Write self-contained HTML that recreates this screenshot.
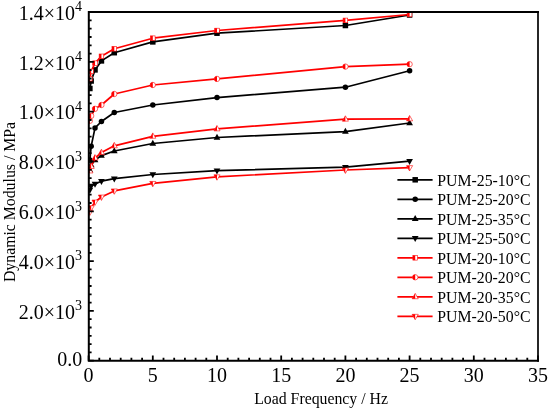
<!DOCTYPE html>
<html><head><meta charset="utf-8"><style>
html,body{margin:0;padding:0;background:#fff;}
svg{display:block;}
.tl{font-family:"Liberation Serif",serif;font-size:20px;fill:#000;}
.tt{font-family:"Liberation Serif",serif;font-size:15.8px;fill:#000;}
</style></head><body>
<svg width="550" height="408" viewBox="0 0 550 408">
<rect width="550" height="408" fill="#fff"/>
<text x="88.60" y="382.2" text-anchor="middle" class="tl">0</text>
<text x="152.80" y="382.2" text-anchor="middle" class="tl">5</text>
<text x="217.00" y="382.2" text-anchor="middle" class="tl">10</text>
<text x="281.20" y="382.2" text-anchor="middle" class="tl">15</text>
<text x="345.40" y="382.2" text-anchor="middle" class="tl">20</text>
<text x="409.60" y="382.2" text-anchor="middle" class="tl">25</text>
<text x="473.80" y="382.2" text-anchor="middle" class="tl">30</text>
<text x="538.00" y="382.2" text-anchor="middle" class="tl">35</text>
<text x="82.3" y="366.30" text-anchor="end" class="tl">0.0</text>
<text x="82" y="318.50" text-anchor="end" class="tl">2.0×10<tspan dy="-8.4" font-size="14">3</tspan></text>
<text x="82" y="268.70" text-anchor="end" class="tl">4.0×10<tspan dy="-8.4" font-size="14">3</tspan></text>
<text x="82" y="218.90" text-anchor="end" class="tl">6.0×10<tspan dy="-8.4" font-size="14">3</tspan></text>
<text x="82" y="169.10" text-anchor="end" class="tl">8.0×10<tspan dy="-8.4" font-size="14">3</tspan></text>
<text x="82" y="119.30" text-anchor="end" class="tl">1.0×10<tspan dy="-8.4" font-size="14">4</tspan></text>
<text x="82" y="69.50" text-anchor="end" class="tl">1.2×10<tspan dy="-8.4" font-size="14">4</tspan></text>
<text x="82" y="19.70" text-anchor="end" class="tl">1.4×10<tspan dy="-8.4" font-size="14">4</tspan></text>
<text x="321.1" y="403.6" text-anchor="middle" class="tt">Load Frequency / Hz</text>
<text transform="translate(14.6,202) rotate(-90)" x="0" y="0" text-anchor="middle" class="tt">Dynamic Modulus / MPa</text>
<defs><clipPath id="pa"><rect x="88" y="0" width="462" height="361"/></clipPath></defs><g clip-path="url(#pa)">
<polyline points="89.88,88.50 91.17,81.00 95.02,69.90 101.44,60.90 114.28,52.70 152.80,41.90 217.00,33.20 345.40,25.50 409.60,15.00" fill="none" stroke="#000" stroke-width="1.7" stroke-linejoin="round"/>
<rect x="87.13" y="85.75" width="5.50" height="5.50" fill="#000"/>
<rect x="88.42" y="78.25" width="5.50" height="5.50" fill="#000"/>
<rect x="92.27" y="67.15" width="5.50" height="5.50" fill="#000"/>
<rect x="98.69" y="58.15" width="5.50" height="5.50" fill="#000"/>
<rect x="111.53" y="49.95" width="5.50" height="5.50" fill="#000"/>
<rect x="150.05" y="39.15" width="5.50" height="5.50" fill="#000"/>
<rect x="214.25" y="30.45" width="5.50" height="5.50" fill="#000"/>
<rect x="342.65" y="22.75" width="5.50" height="5.50" fill="#000"/>
<rect x="406.85" y="12.25" width="5.50" height="5.50" fill="#000"/>
<polyline points="89.88,160.00 91.17,146.30 95.02,127.90 101.44,121.50 114.28,112.50 152.80,105.00 217.00,97.60 345.40,87.20 409.60,70.70" fill="none" stroke="#000" stroke-width="1.7" stroke-linejoin="round"/>
<circle cx="89.88" cy="160.00" r="2.75" fill="#000"/>
<circle cx="91.17" cy="146.30" r="2.75" fill="#000"/>
<circle cx="95.02" cy="127.90" r="2.75" fill="#000"/>
<circle cx="101.44" cy="121.50" r="2.75" fill="#000"/>
<circle cx="114.28" cy="112.50" r="2.75" fill="#000"/>
<circle cx="152.80" cy="105.00" r="2.75" fill="#000"/>
<circle cx="217.00" cy="97.60" r="2.75" fill="#000"/>
<circle cx="345.40" cy="87.20" r="2.75" fill="#000"/>
<circle cx="409.60" cy="70.70" r="2.75" fill="#000"/>
<polyline points="89.88,170.00 91.17,165.00 95.02,160.00 101.44,155.60 114.28,151.00 152.80,143.50 217.00,137.50 345.40,131.60 409.60,123.00" fill="none" stroke="#000" stroke-width="1.7" stroke-linejoin="round"/>
<polygon points="89.88,166.20 93.23,172.20 86.53,172.20" fill="#000"/>
<polygon points="91.17,161.20 94.52,167.20 87.82,167.20" fill="#000"/>
<polygon points="95.02,156.20 98.37,162.20 91.67,162.20" fill="#000"/>
<polygon points="101.44,151.80 104.79,157.80 98.09,157.80" fill="#000"/>
<polygon points="114.28,147.20 117.63,153.20 110.93,153.20" fill="#000"/>
<polygon points="152.80,139.70 156.15,145.70 149.45,145.70" fill="#000"/>
<polygon points="217.00,133.70 220.35,139.70 213.65,139.70" fill="#000"/>
<polygon points="345.40,127.80 348.75,133.80 342.05,133.80" fill="#000"/>
<polygon points="409.60,119.20 412.95,125.20 406.25,125.20" fill="#000"/>
<polyline points="89.88,190.00 91.17,186.00 95.02,184.00 101.44,181.20 114.28,178.60 152.80,174.50 217.00,170.60 345.40,167.20 409.60,161.10" fill="none" stroke="#000" stroke-width="1.7" stroke-linejoin="round"/>
<polygon points="89.88,193.80 93.23,187.80 86.53,187.80" fill="#000"/>
<polygon points="91.17,189.80 94.52,183.80 87.82,183.80" fill="#000"/>
<polygon points="95.02,187.80 98.37,181.80 91.67,181.80" fill="#000"/>
<polygon points="101.44,185.00 104.79,179.00 98.09,179.00" fill="#000"/>
<polygon points="114.28,182.40 117.63,176.40 110.93,176.40" fill="#000"/>
<polygon points="152.80,178.30 156.15,172.30 149.45,172.30" fill="#000"/>
<polygon points="217.00,174.40 220.35,168.40 213.65,168.40" fill="#000"/>
<polygon points="345.40,171.00 348.75,165.00 342.05,165.00" fill="#000"/>
<polygon points="409.60,164.90 412.95,158.90 406.25,158.90" fill="#000"/>
<polyline points="89.88,78.70 91.17,71.40 95.02,63.20 101.44,56.30 114.28,48.80 152.80,38.20 217.00,30.50 345.40,20.40 409.60,14.50" fill="none" stroke="#ff0000" stroke-width="1.7" stroke-linejoin="round"/>
<rect x="87.58" y="76.40" width="4.60" height="4.60" fill="#fff" stroke="#ff0000" stroke-width="0.6"/><rect x="87.58" y="76.40" width="2.30" height="4.60" fill="#ff0000"/>
<rect x="88.87" y="69.10" width="4.60" height="4.60" fill="#fff" stroke="#ff0000" stroke-width="0.6"/><rect x="88.87" y="69.10" width="2.30" height="4.60" fill="#ff0000"/>
<rect x="92.72" y="60.90" width="4.60" height="4.60" fill="#fff" stroke="#ff0000" stroke-width="0.6"/><rect x="92.72" y="60.90" width="2.30" height="4.60" fill="#ff0000"/>
<rect x="99.14" y="54.00" width="4.60" height="4.60" fill="#fff" stroke="#ff0000" stroke-width="0.6"/><rect x="99.14" y="54.00" width="2.30" height="4.60" fill="#ff0000"/>
<rect x="111.98" y="46.50" width="4.60" height="4.60" fill="#fff" stroke="#ff0000" stroke-width="0.6"/><rect x="111.98" y="46.50" width="2.30" height="4.60" fill="#ff0000"/>
<rect x="150.50" y="35.90" width="4.60" height="4.60" fill="#fff" stroke="#ff0000" stroke-width="0.6"/><rect x="150.50" y="35.90" width="2.30" height="4.60" fill="#ff0000"/>
<rect x="214.70" y="28.20" width="4.60" height="4.60" fill="#fff" stroke="#ff0000" stroke-width="0.6"/><rect x="214.70" y="28.20" width="2.30" height="4.60" fill="#ff0000"/>
<rect x="343.10" y="18.10" width="4.60" height="4.60" fill="#fff" stroke="#ff0000" stroke-width="0.6"/><rect x="343.10" y="18.10" width="2.30" height="4.60" fill="#ff0000"/>
<rect x="407.30" y="12.20" width="4.60" height="4.60" fill="#fff" stroke="#ff0000" stroke-width="0.6"/><rect x="407.30" y="12.20" width="2.30" height="4.60" fill="#ff0000"/>
<polyline points="89.88,120.80 91.17,115.90 95.02,108.80 101.44,105.00 114.28,94.00 152.80,85.00 217.00,78.90 345.40,66.60 409.60,64.20" fill="none" stroke="#ff0000" stroke-width="1.7" stroke-linejoin="round"/>
<circle cx="89.88" cy="120.80" r="2.70" fill="#fff" stroke="#ff0000" stroke-width="0.6"/><path d="M89.88,118.10 A2.70,2.70 0 0 0 89.88,123.50 Z" fill="#ff0000"/>
<circle cx="91.17" cy="115.90" r="2.70" fill="#fff" stroke="#ff0000" stroke-width="0.6"/><path d="M91.17,113.20 A2.70,2.70 0 0 0 91.17,118.60 Z" fill="#ff0000"/>
<circle cx="95.02" cy="108.80" r="2.70" fill="#fff" stroke="#ff0000" stroke-width="0.6"/><path d="M95.02,106.10 A2.70,2.70 0 0 0 95.02,111.50 Z" fill="#ff0000"/>
<circle cx="101.44" cy="105.00" r="2.70" fill="#fff" stroke="#ff0000" stroke-width="0.6"/><path d="M101.44,102.30 A2.70,2.70 0 0 0 101.44,107.70 Z" fill="#ff0000"/>
<circle cx="114.28" cy="94.00" r="2.70" fill="#fff" stroke="#ff0000" stroke-width="0.6"/><path d="M114.28,91.30 A2.70,2.70 0 0 0 114.28,96.70 Z" fill="#ff0000"/>
<circle cx="152.80" cy="85.00" r="2.70" fill="#fff" stroke="#ff0000" stroke-width="0.6"/><path d="M152.80,82.30 A2.70,2.70 0 0 0 152.80,87.70 Z" fill="#ff0000"/>
<circle cx="217.00" cy="78.90" r="2.70" fill="#fff" stroke="#ff0000" stroke-width="0.6"/><path d="M217.00,76.20 A2.70,2.70 0 0 0 217.00,81.60 Z" fill="#ff0000"/>
<circle cx="345.40" cy="66.60" r="2.70" fill="#fff" stroke="#ff0000" stroke-width="0.6"/><path d="M345.40,63.90 A2.70,2.70 0 0 0 345.40,69.30 Z" fill="#ff0000"/>
<circle cx="409.60" cy="64.20" r="2.70" fill="#fff" stroke="#ff0000" stroke-width="0.6"/><path d="M409.60,61.50 A2.70,2.70 0 0 0 409.60,66.90 Z" fill="#ff0000"/>
<polyline points="89.88,171.00 91.17,166.50 95.02,158.00 101.44,152.60 114.28,145.80 152.80,136.30 217.00,128.90 345.40,119.20 409.60,118.90" fill="none" stroke="#ff0000" stroke-width="1.7" stroke-linejoin="round"/>
<polygon points="89.88,167.59 92.93,172.96 86.83,172.96" fill="#fff" stroke="#ff0000" stroke-width="0.6" stroke-linejoin="miter"/><polygon points="89.88,167.59 89.88,172.96 86.83,172.96" fill="#ff0000"/>
<polygon points="91.17,163.09 94.22,168.46 88.12,168.46" fill="#fff" stroke="#ff0000" stroke-width="0.6" stroke-linejoin="miter"/><polygon points="91.17,163.09 91.17,168.46 88.12,168.46" fill="#ff0000"/>
<polygon points="95.02,154.59 98.07,159.96 91.97,159.96" fill="#fff" stroke="#ff0000" stroke-width="0.6" stroke-linejoin="miter"/><polygon points="95.02,154.59 95.02,159.96 91.97,159.96" fill="#ff0000"/>
<polygon points="101.44,149.19 104.49,154.56 98.39,154.56" fill="#fff" stroke="#ff0000" stroke-width="0.6" stroke-linejoin="miter"/><polygon points="101.44,149.19 101.44,154.56 98.39,154.56" fill="#ff0000"/>
<polygon points="114.28,142.39 117.33,147.76 111.23,147.76" fill="#fff" stroke="#ff0000" stroke-width="0.6" stroke-linejoin="miter"/><polygon points="114.28,142.39 114.28,147.76 111.23,147.76" fill="#ff0000"/>
<polygon points="152.80,132.89 155.85,138.26 149.75,138.26" fill="#fff" stroke="#ff0000" stroke-width="0.6" stroke-linejoin="miter"/><polygon points="152.80,132.89 152.80,138.26 149.75,138.26" fill="#ff0000"/>
<polygon points="217.00,125.49 220.05,130.86 213.95,130.86" fill="#fff" stroke="#ff0000" stroke-width="0.6" stroke-linejoin="miter"/><polygon points="217.00,125.49 217.00,130.86 213.95,130.86" fill="#ff0000"/>
<polygon points="345.40,115.79 348.45,121.16 342.35,121.16" fill="#fff" stroke="#ff0000" stroke-width="0.6" stroke-linejoin="miter"/><polygon points="345.40,115.79 345.40,121.16 342.35,121.16" fill="#ff0000"/>
<polygon points="409.60,115.49 412.65,120.86 406.55,120.86" fill="#fff" stroke="#ff0000" stroke-width="0.6" stroke-linejoin="miter"/><polygon points="409.60,115.49 409.60,120.86 406.55,120.86" fill="#ff0000"/>
<polyline points="89.88,212.00 91.17,207.70 95.02,202.00 101.44,197.00 114.28,190.90 152.80,183.40 217.00,176.80 345.40,170.00 409.60,167.60" fill="none" stroke="#ff0000" stroke-width="1.7" stroke-linejoin="round"/>
<polygon points="89.88,215.41 92.93,210.04 86.83,210.04" fill="#fff" stroke="#ff0000" stroke-width="0.6" stroke-linejoin="miter"/><polygon points="89.88,215.41 89.88,210.04 86.83,210.04" fill="#ff0000"/>
<polygon points="91.17,211.11 94.22,205.74 88.12,205.74" fill="#fff" stroke="#ff0000" stroke-width="0.6" stroke-linejoin="miter"/><polygon points="91.17,211.11 91.17,205.74 88.12,205.74" fill="#ff0000"/>
<polygon points="95.02,205.41 98.07,200.04 91.97,200.04" fill="#fff" stroke="#ff0000" stroke-width="0.6" stroke-linejoin="miter"/><polygon points="95.02,205.41 95.02,200.04 91.97,200.04" fill="#ff0000"/>
<polygon points="101.44,200.41 104.49,195.04 98.39,195.04" fill="#fff" stroke="#ff0000" stroke-width="0.6" stroke-linejoin="miter"/><polygon points="101.44,200.41 101.44,195.04 98.39,195.04" fill="#ff0000"/>
<polygon points="114.28,194.31 117.33,188.94 111.23,188.94" fill="#fff" stroke="#ff0000" stroke-width="0.6" stroke-linejoin="miter"/><polygon points="114.28,194.31 114.28,188.94 111.23,188.94" fill="#ff0000"/>
<polygon points="152.80,186.81 155.85,181.44 149.75,181.44" fill="#fff" stroke="#ff0000" stroke-width="0.6" stroke-linejoin="miter"/><polygon points="152.80,186.81 152.80,181.44 149.75,181.44" fill="#ff0000"/>
<polygon points="217.00,180.21 220.05,174.84 213.95,174.84" fill="#fff" stroke="#ff0000" stroke-width="0.6" stroke-linejoin="miter"/><polygon points="217.00,180.21 217.00,174.84 213.95,174.84" fill="#ff0000"/>
<polygon points="345.40,173.41 348.45,168.04 342.35,168.04" fill="#fff" stroke="#ff0000" stroke-width="0.6" stroke-linejoin="miter"/><polygon points="345.40,173.41 345.40,168.04 342.35,168.04" fill="#ff0000"/>
<polygon points="409.60,171.01 412.65,165.64 406.55,165.64" fill="#fff" stroke="#ff0000" stroke-width="0.6" stroke-linejoin="miter"/><polygon points="409.60,171.01 409.60,165.64 406.55,165.64" fill="#ff0000"/>
</g>
<path d="M87.8,12.10H539M88.8,11.10V361.70M87.8,360.70H539" stroke="#000" stroke-width="2" fill="none"/><path d="M538.0,11.10V361.70" stroke="#000" stroke-width="1.7" fill="none"/>
<path d="M88.60,360.70V355.50M99.30,360.70V357.70M110.00,360.70V357.70M120.70,360.70V357.70M131.40,360.70V357.70M142.10,360.70V357.70M152.80,360.70V355.50M163.50,360.70V357.70M174.20,360.70V357.70M184.90,360.70V357.70M195.60,360.70V357.70M206.30,360.70V357.70M217.00,360.70V355.50M227.70,360.70V357.70M238.40,360.70V357.70M249.10,360.70V357.70M259.80,360.70V357.70M270.50,360.70V357.70M281.20,360.70V355.50M291.90,360.70V357.70M302.60,360.70V357.70M313.30,360.70V357.70M324.00,360.70V357.70M334.70,360.70V357.70M345.40,360.70V355.50M356.10,360.70V357.70M366.80,360.70V357.70M377.50,360.70V357.70M388.20,360.70V357.70M398.90,360.70V357.70M409.60,360.70V355.50M420.30,360.70V357.70M431.00,360.70V357.70M441.70,360.70V357.70M452.40,360.70V357.70M463.10,360.70V357.70M473.80,360.70V355.50M484.50,360.70V357.70M495.20,360.70V357.70M505.90,360.70V357.70M516.60,360.70V357.70M527.30,360.70V357.70M538.00,360.70V355.50M88.60,360.70H93.80M88.60,352.40H91.60M88.60,344.10H91.60M88.60,335.80H91.60M88.60,327.50H91.60M88.60,319.20H91.60M88.60,310.90H93.80M88.60,302.60H91.60M88.60,294.30H91.60M88.60,286.00H91.60M88.60,277.70H91.60M88.60,269.40H91.60M88.60,261.10H93.80M88.60,252.80H91.60M88.60,244.50H91.60M88.60,236.20H91.60M88.60,227.90H91.60M88.60,219.60H91.60M88.60,211.30H93.80M88.60,203.00H91.60M88.60,194.70H91.60M88.60,186.40H91.60M88.60,178.10H91.60M88.60,169.80H91.60M88.60,161.50H93.80M88.60,153.20H91.60M88.60,144.90H91.60M88.60,136.60H91.60M88.60,128.30H91.60M88.60,120.00H91.60M88.60,111.70H93.80M88.60,103.40H91.60M88.60,95.10H91.60M88.60,86.80H91.60M88.60,78.50H91.60M88.60,70.20H91.60M88.60,61.90H93.80M88.60,53.60H91.60M88.60,45.30H91.60M88.60,37.00H91.60M88.60,28.70H91.60M88.60,20.40H91.60M88.60,12.10H93.80" stroke="#000" stroke-width="1.8" fill="none"/>
<line x1="397.4" y1="179.80" x2="432.6" y2="179.80" stroke="#000" stroke-width="1.7"/>
<rect x="412.45" y="177.05" width="5.50" height="5.50" fill="#000"/>
<text x="437.3" y="185.70" class="tt" font-size="15.65">PUM-25-10°C</text>
<line x1="397.4" y1="199.30" x2="432.6" y2="199.30" stroke="#000" stroke-width="1.7"/>
<circle cx="415.20" cy="199.30" r="2.75" fill="#000"/>
<text x="437.3" y="205.20" class="tt" font-size="15.65">PUM-25-20°C</text>
<line x1="397.4" y1="218.80" x2="432.6" y2="218.80" stroke="#000" stroke-width="1.7"/>
<polygon points="415.20,215.00 418.55,221.00 411.85,221.00" fill="#000"/>
<text x="437.3" y="224.70" class="tt" font-size="15.65">PUM-25-35°C</text>
<line x1="397.4" y1="238.30" x2="432.6" y2="238.30" stroke="#000" stroke-width="1.7"/>
<polygon points="415.20,242.10 418.55,236.10 411.85,236.10" fill="#000"/>
<text x="437.3" y="244.20" class="tt" font-size="15.65">PUM-25-50°C</text>
<line x1="397.4" y1="257.80" x2="432.6" y2="257.80" stroke="#ff0000" stroke-width="1.7"/>
<rect x="412.90" y="255.50" width="4.60" height="4.60" fill="#fff" stroke="#ff0000" stroke-width="0.6"/><rect x="412.90" y="255.50" width="2.30" height="4.60" fill="#ff0000"/>
<text x="437.3" y="263.70" class="tt" font-size="15.65">PUM-20-10°C</text>
<line x1="397.4" y1="277.30" x2="432.6" y2="277.30" stroke="#ff0000" stroke-width="1.7"/>
<circle cx="415.20" cy="277.30" r="2.70" fill="#fff" stroke="#ff0000" stroke-width="0.6"/><path d="M415.20,274.60 A2.70,2.70 0 0 0 415.20,280.00 Z" fill="#ff0000"/>
<text x="437.3" y="283.20" class="tt" font-size="15.65">PUM-20-20°C</text>
<line x1="397.4" y1="296.80" x2="432.6" y2="296.80" stroke="#ff0000" stroke-width="1.7"/>
<polygon points="415.20,293.39 418.25,298.76 412.15,298.76" fill="#fff" stroke="#ff0000" stroke-width="0.6" stroke-linejoin="miter"/><polygon points="415.20,293.39 415.20,298.76 412.15,298.76" fill="#ff0000"/>
<text x="437.3" y="302.70" class="tt" font-size="15.65">PUM-20-35°C</text>
<line x1="397.4" y1="316.30" x2="432.6" y2="316.30" stroke="#ff0000" stroke-width="1.7"/>
<polygon points="415.20,319.71 418.25,314.34 412.15,314.34" fill="#fff" stroke="#ff0000" stroke-width="0.6" stroke-linejoin="miter"/><polygon points="415.20,319.71 415.20,314.34 412.15,314.34" fill="#ff0000"/>
<text x="437.3" y="322.20" class="tt" font-size="15.65">PUM-20-50°C</text>
</svg>
</body></html>
